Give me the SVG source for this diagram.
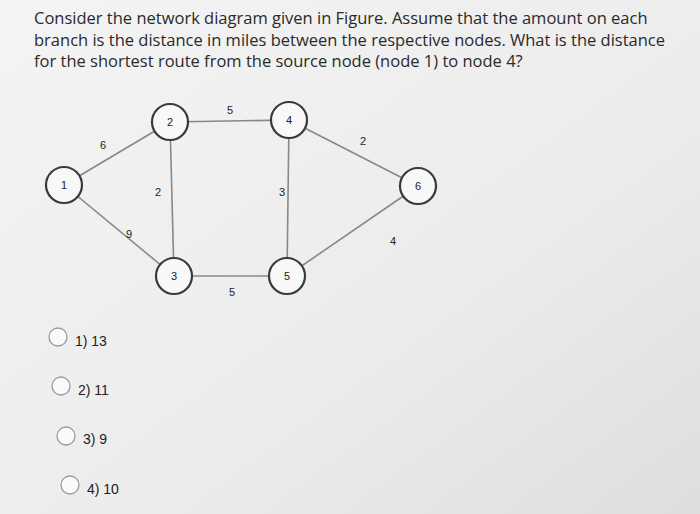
<svg xmlns="http://www.w3.org/2000/svg" width="700" height="514" viewBox="0 0 700 514">
<defs>
<linearGradient id="bg" x1="0" y1="0" x2="1" y2="1">
<stop offset="0" stop-color="#f4f4f4"/><stop offset="0.6" stop-color="#ececec"/><stop offset="1" stop-color="#dedede"/>
</linearGradient>
<style>
.q{font-family:"Open Sans","Liberation Sans",sans-serif;font-size:16.5px;fill:#2a2a2a}
.n circle{fill:#f8f8f8;stroke:#3a3a3a;stroke-width:2.2}
.n text,.l{font-family:"Liberation Sans",sans-serif;font-size:11px;fill:#222;text-anchor:middle}
.e line{stroke:#888;stroke-width:1.6}
.r circle{fill:#fafafa;stroke:#9a9a9a;stroke-width:1.3}
.o{font-family:"Liberation Sans",sans-serif;font-size:14px;fill:#222}
</style>
</defs>
<rect width="700" height="514" fill="url(#bg)"/>
<text class="q" x="34" y="24">Consider the network diagram given in Figure. Assume that the amount on each</text>
<text class="q" x="34" y="46">branch is the distance in miles between the respective nodes. What is the distance</text>
<text class="q" x="34" y="67">for the shortest route from the source node (node 1) to node 4?</text>
<g class="e" id="connectors">
<line x1="64" y1="185" x2="170" y2="122"/>
<line x1="64" y1="185" x2="174" y2="276"/>
<line x1="170" y1="122" x2="289" y2="120"/>
<line x1="170" y1="122" x2="174" y2="276"/>
<line x1="289" y1="120" x2="287" y2="276"/>
<line x1="289" y1="120" x2="418" y2="186"/>
<line x1="174" y1="276" x2="287" y2="276"/>
<line x1="287" y1="276" x2="418" y2="186"/>
</g>
<g>
<text class="l" x="103" y="149">6</text>
<text class="l" x="230" y="114">5</text>
<text class="l" x="363" y="145">2</text>
<text class="l" x="158" y="196">2</text>
<text class="l" x="282" y="196">3</text>
<text class="l" x="129" y="238">9</text>
<text class="l" x="393" y="245">4</text>
<text class="l" x="232" y="296">5</text>
</g>
<g class="n" id="node1"><circle cx="64" cy="185" r="18"/><text x="64" y="189">1</text></g>
<g class="n" id="node2"><circle cx="170" cy="122" r="18"/><text x="170" y="126">2</text></g>
<g class="n" id="node4"><circle cx="289" cy="120" r="18"/><text x="289" y="124">4</text></g>
<g class="n" id="node6"><circle cx="418" cy="186" r="18"/><text x="418" y="190">6</text></g>
<g class="n" id="node3"><circle cx="174" cy="276" r="18"/><text x="174" y="280">3</text></g>
<g class="n" id="node5"><circle cx="287" cy="276" r="18"/><text x="287" y="280">5</text></g>
<g class="r">
<circle cx="58" cy="337" r="9"/><text class="o" x="75" y="346">1) 13</text>
<circle cx="61" cy="386" r="9"/><text class="o" x="78" y="395">2) 11</text>
<circle cx="66" cy="436" r="9"/><text class="o" x="83" y="444">3) 9</text>
<circle cx="70" cy="485" r="9"/><text class="o" x="87" y="494">4) 10</text>
</g>
</svg>
